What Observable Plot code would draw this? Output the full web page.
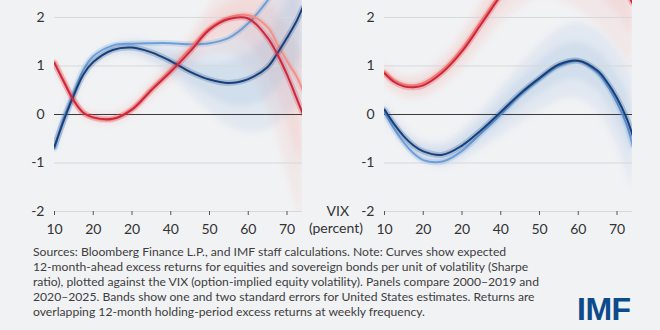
<!DOCTYPE html>
<html>
<head>
<meta charset="utf-8">
<script src="https://cdn.jsdelivr.net/npm/d3@7"></script>
<script src="https://cdn.jsdelivr.net/npm/@observablehq/plot@0.6"></script>
<style>
  html, body { margin: 0; padding: 0; background: #f1f2f4; }
  #fig { position: relative; width: 660px; height: 330px; background: #f1f2f4; overflow: hidden;
         font-family: Lato, "Open Sans", sans-serif; color: #333; }
  #left { position: absolute; left: 0; top: 0; }
  #right { position: absolute; left: 330px; top: 0; }
  .xlab { position: absolute; font-size: 14px; line-height: 16px; text-align: right; color: #333; white-space: nowrap; }
  #note { position: absolute; left: 33px; top: 244px; font-size: 13px; line-height: 15px; color: #3d3d3d;
          white-space: nowrap; }
  #note span { display: inline-block; }
  #logo { position: absolute; left: 577px; top: 291px; font: bold 32px "Liberation Sans", Arial, sans-serif;
          color: #0b4a8b; letter-spacing: -0.5px; }
</style>
</head>
<body>
<div id="fig">
  <div id="left"></div>
  <div id="right"></div>
  <div class="xlab" style="left:290px;top:203px;width:59px;">VIX</div>
  <div class="xlab" style="left:290px;top:220px;width:73px;">(percent)</div>
  <div id="note"></div>
  <div id="logo">IMF</div>
</div>
<script>
// VIX grid shared by every curve
const vix = [10, 12.5, 15, 17.5, 20, 25, 30, 35, 40, 45, 50, 55, 60, 65, 67.5, 70, 72.5, 74];

// Panel 1 (2000–2019): Sharpe ratios
const p1BlueDark  = [-0.66, -0.10, 0.40, 0.83, 1.08, 1.33, 1.38, 1.28, 1.10, 0.88, 0.72, 0.65, 0.73, 0.98, 1.26, 1.58, 1.93, 2.20];
const p1BlueLight = [-0.70, -0.05, 0.45, 0.93, 1.20, 1.42, 1.46, 1.47, 1.47, 1.45, 1.47, 1.58, 1.88, 2.35, 2.65, 3.00, 3.40, 3.60];
const p1RedDark   = [1.06, 0.66, 0.28, 0.03, -0.06, -0.09, 0.10, 0.50, 0.88, 1.30, 1.75, 1.97, 1.98, 1.58, 1.24, 0.82, 0.33, 0.03];
const p1RedLight  = [1.08, 0.68, 0.30, 0.04, -0.07, -0.10, 0.12, 0.53, 0.93, 1.36, 1.78, 2.00, 2.05, 1.80, 1.45, 1.10, 0.78, 0.51];
const p1BlueSE    = [0.06, 0.05, 0.05, 0.05, 0.05, 0.06, 0.08, 0.11, 0.16, 0.24, 0.33, 0.45, 0.55, 0.65, 0.72, 0.80, 0.88, 0.95];
const p1RedSE     = [0.06, 0.05, 0.05, 0.05, 0.05, 0.06, 0.07, 0.09, 0.12, 0.17, 0.25, 0.35, 0.50, 0.72, 0.85, 1.00, 1.12, 1.20];

// Panel 2 (2020–2025): Sharpe ratios
const p2BlueDark  = [0.10, -0.20, -0.45, -0.64, -0.76, -0.83, -0.64, -0.32, 0.05, 0.43, 0.75, 1.03, 1.11, 0.90, 0.66, 0.34, -0.08, -0.42];
const p2BlueLight = [0.05, -0.30, -0.58, -0.80, -0.94, -0.97, -0.75, -0.38, 0.00, 0.40, 0.73, 1.00, 1.10, 0.86, 0.60, 0.24, -0.22, -0.64];
const p2RedDark   = [0.85, 0.67, 0.58, 0.56, 0.60, 0.87, 1.30, 1.87, 2.45, 2.95, 3.30, 3.45, 3.40, 3.15, 2.95, 2.75, 2.50, 2.30];
const p2RedLight  = [0.88, 0.71, 0.62, 0.60, 0.65, 0.92, 1.36, 1.93, 2.50, 3.00, 3.35, 3.50, 3.45, 3.20, 3.00, 2.80, 2.55, 2.35];
const p2BlueSE    = [0.08, 0.08, 0.09, 0.10, 0.11, 0.13, 0.16, 0.20, 0.25, 0.30, 0.34, 0.37, 0.39, 0.42, 0.45, 0.50, 0.55, 0.58];
const p2RedSE     = [0.12, 0.12, 0.12, 0.13, 0.14, 0.16, 0.20, 0.25, 0.30, 0.38, 0.45, 0.55, 0.62, 0.65, 0.66, 0.67, 0.68, 0.70];

// Axes
const xTicks = [10, 20, 30, 40, 50, 60, 70];
const xTickLabels = ["10", "20", "20", "40", "50", "60", "70"];
const yTicks = [-2, -1, 0, 1, 2];
const yTickLabels = ["-2", "-1", "0", "1", "2"];
const gridValues = [-2, -1, 1, 2];

const noteLines = [
  "Sources: Bloomberg Finance L.P., and IMF staff calculations. Note: Curves show expected",
  "12-month-ahead excess returns for equities and sovereign bonds per unit of volatility (Sharpe",
  "ratio), plotted against the VIX (option-implied equity volatility). Panels compare 2000–2019 and",
  "2020–2025. Bands show one and two standard errors for United States estimates. Returns are",
  "overlapping 12-month holding-period excess returns at weekly frequency."
];
const noteWidth = 506; // width of the widest note line, px

const colors = {
  blueDark: "#163f7c", blueLight: "#6c9fd8",
  redDark: "#d0263a", redLight: "#f39189",
  blueBand: "#7ea6d6", redBand: "#f19a96"
};

function rows(values, se) {
  return vix.map((x, i) => ({x, y: values[i], se: se ? se[i] : 0}));
}

function band(data, k, fill, opacity) {
  return Plot.areaY(data, {
    x: "x", y1: d => d.y - k * d.se, y2: d => d.y + k * d.se,
    fill, fillOpacity: opacity, curve: "catmull-rom", clip: true
  });
}

function curve(data, stroke, width) {
  return [
    Plot.line(data, {x: "x", y: "y", stroke, strokeOpacity: 0.22, strokeWidth: width + 4, curve: "catmull-rom", clip: true}),
    Plot.line(data, {x: "x", y: "y", stroke, strokeWidth: width, curve: "catmull-rom", clip: true})
  ];
}

function panel(blueDark, blueLight, redDark, redLight, blueSE, redSE) {
  const bd = rows(blueDark, blueSE), rd = rows(redDark, redSE);
  const svg = Plot.plot({
    width: 330, height: 240,
    marginLeft: 54, marginRight: 28, marginTop: 0, marginBottom: 29,
    x: {domain: [10, 74]},
    y: {domain: [-2, 2.35]},
    style: {background: "transparent", fontFamily: "Lato, 'Open Sans', sans-serif", fontSize: "14px", color: "#333"},
    marks: [
      band(rd, 2, colors.redBand, 0.13),
      band(rd, 1, colors.redBand, 0.16),
      band(bd, 2, colors.blueBand, 0.13),
      band(bd, 1, colors.blueBand, 0.16),
      Plot.ruleY(gridValues, {stroke: "#d6d8dc", strokeWidth: 1}),
      Plot.ruleY([0], {stroke: "#3a3a3a", strokeWidth: 1.2}),
      Plot.axisX({ticks: xTicks, tickFormat: d => xTickLabels[xTicks.indexOf(d)], tickSize: 4, tickPadding: 9, label: null, stroke: "#555"}),
      Plot.axisY({ticks: yTicks, tickFormat: d => yTickLabels[yTicks.indexOf(d)], tickSize: 0, tickPadding: 10, label: null}),
      ...curve(rows(blueLight), colors.blueLight, 2),
      ...curve(rows(redLight), colors.redLight, 2),
      ...curve(bd, colors.blueDark, 2),
      ...curve(rd, colors.redDark, 2)
    ]
  });
  // soften the standard-error bands
  const defs = d3.select(svg).insert("defs", ":first-child");
  defs.append("filter").attr("id", "soft" + Math.random().toString(36).slice(2))
    .attr("x", "-20%").attr("y", "-20%").attr("width", "140%").attr("height", "140%")
    .append("feGaussianBlur").attr("stdDeviation", 3);
  const fid = defs.select("filter").attr("id");
  d3.select(svg).selectAll('g[aria-label="area"]').attr("filter", `url(#${fid})`);
  return svg;
}

document.getElementById("left").append(panel(p1BlueDark, p1BlueLight, p1RedDark, p1RedLight, p1BlueSE, p1RedSE));
document.getElementById("right").append(panel(p2BlueDark, p2BlueLight, p2RedDark, p2RedLight, p2BlueSE, p2RedSE));

// note lines, sized so the widest line spans noteWidth
const note = d3.select("#note");
note.selectAll("div").data(noteLines).join("div").append("span").text(d => d);
const widest = d3.max(note.selectAll("span").nodes(), n => n.getBoundingClientRect().width);
note.style("font-size", (13 * noteWidth / widest).toFixed(2) + "px");
</script>
</body>
</html>
